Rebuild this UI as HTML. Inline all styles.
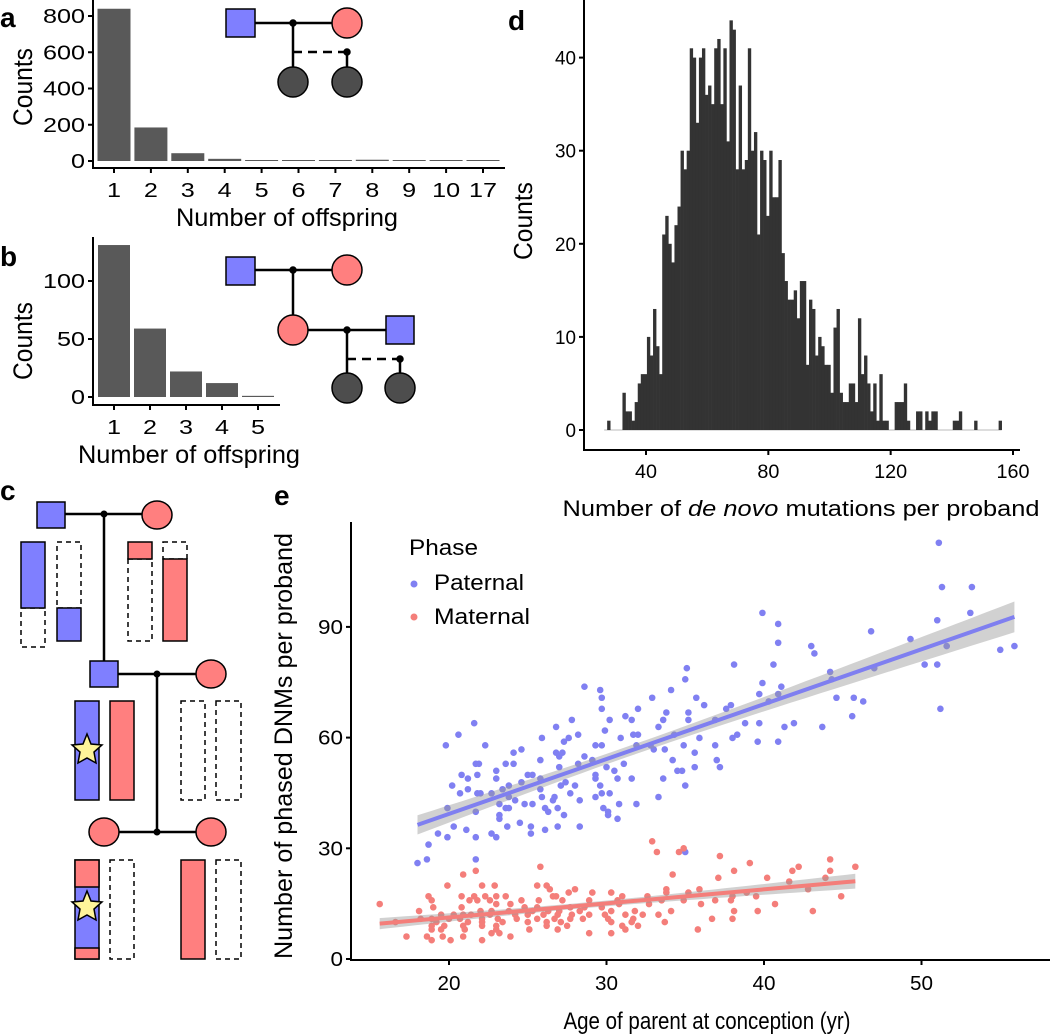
<!DOCTYPE html>
<html><head><meta charset="utf-8"><style>
html,body{margin:0;padding:0;background:#fff;}
svg{display:block;font-family:"Liberation Sans",Arial,sans-serif;}
</style></head><body>
<svg id="fig" width="1050" height="1034" viewBox="0 0 1050 1034" xmlns="http://www.w3.org/2000/svg">
<!-- panel labels -->
<text x="0" y="27" font-size="28" font-weight="bold">a</text>
<text x="0" y="266" font-size="28" font-weight="bold">b</text>
<text x="0" y="500" font-size="28" font-weight="bold">c</text>
<text x="508" y="30" font-size="28" font-weight="bold">d</text>
<text x="274" y="505" font-size="28" font-weight="bold">e</text>

<g id="pa"></g>
<g id="pb"></g>
<g id="pd"></g>
<g id="pe"></g>

<!-- pedigree a -->
<g stroke="#000" stroke-width="2.5">
<line x1="255" y1="23" x2="332" y2="23"/>
<line x1="293" y1="23" x2="293" y2="67"/>
<line x1="293" y1="52" x2="347" y2="52" stroke-dasharray="9,6"/>
<line x1="347" y1="52" x2="347" y2="67"/>
<circle cx="293" cy="23" r="2.5" fill="#000"/>
<circle cx="347" cy="52" r="2.5" fill="#000"/>
<rect x="226" y="9" width="29" height="28" fill="#7F7FFF" stroke-width="1.5"/>
<circle cx="347" cy="23" r="15" fill="#FF7F7F" stroke-width="1.5"/>
<circle cx="293" cy="82" r="15" fill="#4D4D4D" stroke-width="1.5"/>
<circle cx="347" cy="82" r="15" fill="#4D4D4D" stroke-width="1.5"/>
</g>
<!-- pedigree b -->
<g stroke="#000" stroke-width="2.5">
<line x1="255" y1="270" x2="332" y2="270"/>
<line x1="293" y1="270" x2="293" y2="315"/>
<line x1="308" y1="330" x2="386" y2="330"/>
<line x1="347" y1="330" x2="347" y2="373"/>
<line x1="347" y1="359" x2="400" y2="359" stroke-dasharray="9,6"/>
<line x1="400" y1="359" x2="400" y2="373"/>
<circle cx="293" cy="270" r="2.5" fill="#000"/>
<circle cx="347" cy="330" r="2.5" fill="#000"/>
<circle cx="400" cy="359" r="2.5" fill="#000"/>
<rect x="226" y="257" width="29" height="28" fill="#7F7FFF" stroke-width="1.5"/>
<circle cx="347" cy="270" r="15" fill="#FF7F7F" stroke-width="1.5"/>
<circle cx="293" cy="330" r="15" fill="#FF7F7F" stroke-width="1.5"/>
<rect x="386" y="316" width="28" height="28" fill="#7F7FFF" stroke-width="1.5"/>
<circle cx="347" cy="388" r="15" fill="#4D4D4D" stroke-width="1.5"/>
<circle cx="400" cy="388" r="15" fill="#4D4D4D" stroke-width="1.5"/>
</g>
<!-- panel c -->
<g stroke="#000" stroke-width="2">
<line x1="65" y1="514" x2="142" y2="514" stroke-width="2.5"/>
<line x1="104" y1="514" x2="104" y2="662" stroke-width="2.5"/>
<line x1="118" y1="674" x2="196" y2="674" stroke-width="2.5"/>
<line x1="157" y1="674" x2="157" y2="832" stroke-width="2.5"/>
<line x1="119" y1="832" x2="196" y2="832" stroke-width="2.5"/>
<circle cx="104" cy="514" r="2.5" fill="#000"/>
<circle cx="157" cy="674" r="2.5" fill="#000"/>
<circle cx="157" cy="832" r="2.5" fill="#000"/>
<rect x="37" y="502" width="28" height="26" fill="#7F7FFF" stroke-width="1.5"/>
<ellipse cx="157" cy="515" rx="15" ry="14" fill="#FF7F7F" stroke-width="1.5"/>
<rect x="90" y="661" width="28" height="26" fill="#7F7FFF" stroke-width="1.5"/>
<ellipse cx="211" cy="674" rx="15" ry="14" fill="#FF7F7F" stroke-width="1.5"/>
<ellipse cx="104" cy="832" rx="15" ry="14" fill="#FF7F7F" stroke-width="1.5"/>
<ellipse cx="211" cy="832" rx="15" ry="14" fill="#FF7F7F" stroke-width="1.5"/>
<g stroke-width="1.5">
<rect x="21" y="608" width="24" height="39" fill="none" stroke-dasharray="5,4"/>
<rect x="21" y="542" width="24" height="66" fill="#7F7FFF"/>
<rect x="57" y="542" width="24" height="66" fill="none" stroke-dasharray="5,4"/>
<rect x="57" y="608" width="24" height="33" fill="#7F7FFF"/>
<rect x="128" y="559" width="24" height="82" fill="none" stroke-dasharray="5,4"/>
<rect x="128" y="542" width="24" height="17" fill="#FF7F7F"/>
<rect x="163" y="542" width="24" height="17" fill="none" stroke-dasharray="5,4"/>
<rect x="163" y="559" width="24" height="82" fill="#FF7F7F"/>
<rect x="75" y="701" width="24" height="99" fill="#7F7FFF"/>
<rect x="110" y="701" width="24" height="99" fill="#FF7F7F"/>
<rect x="181" y="701" width="24" height="99" fill="none" stroke-dasharray="5,4"/>
<rect x="216" y="701" width="25" height="99" fill="none" stroke-dasharray="5,4"/>
<rect x="75" y="860" width="24" height="99" fill="#7F7FFF"/>
<rect x="75" y="860" width="24" height="27" fill="#FF7F7F"/>
<rect x="75" y="948" width="24" height="11" fill="#FF7F7F"/>
<rect x="110" y="860" width="24" height="99" fill="none" stroke-dasharray="5,4"/>
<rect x="181" y="860" width="24" height="99" fill="#FF7F7F"/>
<rect x="216" y="860" width="25" height="99" fill="none" stroke-dasharray="5,4"/>
<polygon points="87,734 91,744 102,745 94,752 96,763 87,758 78,763 80,752 72,745 83,744" fill="#FFF59A"/>
<polygon points="87,891 91,901 102,902 94,909 96,920 87,915 78,920 80,909 72,902 83,901" fill="#FFF59A"/>
</g>
</g>

<!-- panel d titles -->
<text transform="translate(532,221) rotate(-90)" text-anchor="middle" font-size="26" textLength="78" lengthAdjust="spacingAndGlyphs">Counts</text>
<text x="801" y="516" text-anchor="middle" font-size="22" textLength="477" lengthAdjust="spacingAndGlyphs">Number of <tspan font-style="italic">de novo</tspan> mutations per proband</text>

<!-- panel a/b titles -->
<text transform="translate(32,87) rotate(-90)" text-anchor="middle" font-size="27" textLength="78" lengthAdjust="spacingAndGlyphs">Counts</text>
<text x="287" y="226" text-anchor="middle" font-size="25" textLength="222" lengthAdjust="spacingAndGlyphs">Number of offspring</text>
<text transform="translate(32,341) rotate(-90)" text-anchor="middle" font-size="27" textLength="78" lengthAdjust="spacingAndGlyphs">Counts</text>
<text x="189" y="463" text-anchor="middle" font-size="25" textLength="222" lengthAdjust="spacingAndGlyphs">Number of offspring</text>

<!-- panel e titles -->
<text transform="translate(292,746) rotate(-90)" text-anchor="middle" font-size="25" textLength="426" lengthAdjust="spacingAndGlyphs">Number of phased DNMs per proband</text>
<text x="707" y="1029" text-anchor="middle" font-size="24" textLength="287" lengthAdjust="spacingAndGlyphs">Age of parent at conception (yr)</text>
<g>
<text x="409" y="555" font-size="22" textLength="69" lengthAdjust="spacingAndGlyphs">Phase</text>
<circle cx="414" cy="584" r="3.5" fill="#8080F2"/>
<text x="434" y="590" font-size="22" textLength="90" lengthAdjust="spacingAndGlyphs">Paternal</text>
<circle cx="414" cy="617" r="3.5" fill="#F47E7A"/>
<text x="434" y="624" font-size="22" textLength="96" lengthAdjust="spacingAndGlyphs">Maternal</text>
</g>
</svg>
<script>
// ---- data panel a ----
const aCategories = ["1","2","3","4","5","6","7","8","9","10","17"];
const aCounts = [840,185,43,12,3,2,3,7,3,1,1];
const aTicks = [0,200,400,600,800];
// ---- data panel b ----
const bCategories = ["1","2","3","4","5"];
const bCounts = [131,59,22,12,1];
const bTicks = [0,50,100];
// ---- data panel d ----
const dBinStart = 27.3;
const dBinWidth = 1.0;
const dCounts = [1,0,0,0,0,4,2,2,1,3,5,6,6,10,8,13,9,6,21,23,20,18,22,24,30,28,30,41,40,33,40,41,36,37,35,41,42,35,41,31,44,43,28,37,28,29,41,30,32,21,30,29,23,30,25,25,29,19,16,14,14,15,12,16,16,7,14,13,8,10,9,7,7,4,11,13,4,3,3,5,5,3,12,6,8,5,2,5,1,6,1,1,0,0,3,3,3,5,1,0,0,2,2,0,2,1,2,2,0,0,0,0,0,1,1,2,0,0,0,0,1,0,0,0,0,0,0,0,1];
const dYTicks = [0,10,20,30,40];
const dXTicks = [40,80,120,160];
// ---- data panel e ----
const paternalAge = [51.1,51.3,53.2,53.1,51.0,39.9,40.9,40.9,46.8,49.3,43.0,43.2,55.0,55.9,51.6,50.2,51.0,51.2,47.0,38.1,40.6,35.1,35.0,44.2,44.3,39.9,41.1,34.1,28.6,29.6,29.7,32.9,35.7,39.7,40.9,44.6,45.7,46.3,40.3,36.2,32.0,29.7,33.8,35.2,37.9,37.6,45.6,31.2,31.6,30.2,27.8,33.6,35.2,36.9,38.8,39.7,41.9,41.3,43.7,21.6,26.8,33.3,29.9,31.7,32.0,34.3,20.6,28.2,25.9,27.6,27.3,30.9,35.9,38.0,38.3,39.6,40.9,31.9,32.8,19.8,22.3,29.3,29.7,34.9,36.9,33.0,33.7,24.6,24.1,26.8,27.2,35.6,27.0,28.6,29.1,25.8,34.2,37.0,23.6,24.1,21.7,21.9,28.2,30.0,27.0,35.6,37.2,31.1,23.0,30.5,34.5,34.8,20.8,25.0,25.3,21.2,21.8,23.0,25.8,29.3,29.3,30.7,31.6,33.6,24.6,27.4,20.2,23.8,28.0,27.1,29.6,35.0,21.2,20.7,23.4,21.8,22.0,25.8,22.7,27.7,29.7,30.2,23.8,25.9,26.7,29.3,33.3,24.2,26.6,28.3,24.8,23.2,25.3,30.8,31.9,19.9,23.6,23.8,26.1,26.9,29.8,21.7,26.3,30.1,23.2,27.3,30.1,23.2,30.7,20.3,21.1,23.7,25.2,26.9,28.3,24.5,19.3,19.9,21.7,22.7,23.0,25.2,26.1,18.7,18.6,18.0,21.7,35.0];
const paternalDNM = [112.8,100.8,100.8,93.8,91.8,93.8,90.8,85.7,88.8,86.7,84.8,82.8,83.8,84.8,84.8,79.8,79.8,67.8,78.8,79.8,79.8,78.8,75.8,77.8,75.8,74.8,73.8,72.9,73.8,72.9,70.8,70.8,70.8,71.8,71.8,70.8,70.8,69.8,69.8,68.8,67.8,67.8,66.8,66.8,68.8,67.8,65.8,65.8,64.8,64.8,64.8,64.8,64.8,64.8,63.9,63.9,63.9,62.9,62.9,63.9,62.9,62.9,61.9,60.8,60.8,60.8,60.8,60.8,59.9,59.9,58.9,59.9,59.9,59.9,60.8,58.9,58.9,57.9,57.9,57.9,57.9,57.9,57.9,57.9,57.9,56.8,56.8,56.8,55.9,55.9,55.9,55.9,54.9,54.9,53.9,53.9,53.9,53.9,52.9,52.9,52.9,52.9,52.9,52.0,52.0,52.0,52.0,52.9,51.0,51.0,51.0,51.0,49.9,49.9,49.9,48.9,49.9,48.9,48.9,49.9,48.9,48.9,48.9,48.9,47.9,47.9,47.0,47.0,47.0,47.0,47.0,47.0,46.0,44.9,46.0,44.9,44.9,46.0,44.9,44.9,44.9,44.9,43.9,43.9,43.9,43.9,43.9,43.0,43.0,43.0,42.0,42.0,42.0,42.0,42.0,40.9,40.9,40.9,40.9,40.9,40.9,39.9,39.9,39.9,39.0,39.0,39.0,38.0,38.0,35.9,35.0,35.9,35.9,35.9,35.9,36.9,34.0,33.0,33.0,34.0,33.0,34.0,35.0,31.0,27.0,26.0,27.0,29.0];
const maternalAge = [32.9,33.2,34.6,34.9,37.2,39.1,44.2,25.8,21.7,45.8,42.2,41.8,44.2,38.1,20.9,34.2,40.2,37.1,43.9,41.6,19.9,22.1,22.9,25.6,26.2,26.4,28.0,33.8,35.9,38.9,42.8,27.6,29.1,30.3,33.8,35.2,38.0,18.7,20.8,21.6,22.3,23.0,23.6,26.6,26.8,31.0,32.6,39.5,44.9,18.9,21.3,21.8,22.6,24.6,25.7,27.2,28.9,30.7,33.5,34.9,36.9,37.9,15.6,18.1,19.0,20.8,23.0,23.9,24.8,25.6,27.7,28.6,29.7,30.8,32.7,36.0,40.7,38.1,43.1,39.6,31.8,34.1,28.3,30.3,27.0,26.3,25.3,23.8,22.7,22.0,19.5,20.3,20.9,21.4,22.6,24.2,25.0,26.0,26.9,27.8,28.9,29.9,31.2,32.3,33.3,18.2,18.9,20.0,20.7,22.1,23.1,24.3,25.6,26.7,27.7,28.5,30.1,31.7,36.7,38.0,16.6,19.2,21.2,22.1,23.4,25.0,26.2,27.1,30.3,31.6,33.7,18.9,19.7,20.9,22.1,23.0,26.2,27.5,31.0,32.0,18.9,19.5,21.0,23.0,25.1,26.9,35.8,31.2,22.7,23.2,20.9,28.9,30.3,17.3,18.6,19.6,18.9,20.1,22.1,23.9];
const maternalDNM = [31.9,29.0,29.0,30.0,27.9,26.0,27.0,25.0,23.9,25.0,25.0,23.9,23.9,23.9,22.9,22.9,22.0,22.0,22.0,21.0,19.9,19.9,19.9,19.9,19.9,18.9,18.9,18.9,18.9,18.0,18.9,18.0,18.0,18.0,18.0,18.0,17.0,17.0,17.0,17.0,17.0,17.0,17.0,17.0,17.0,17.0,17.0,17.0,17.0,15.9,15.9,15.9,15.9,15.9,15.9,15.9,15.9,15.9,15.9,15.9,15.9,15.9,14.9,13.0,14.0,14.0,14.9,14.9,14.0,14.0,14.0,14.0,14.0,14.9,14.9,14.9,14.9,13.0,13.0,13.0,13.0,13.0,13.0,13.0,13.0,13.0,13.0,13.0,13.0,13.0,12.0,12.0,12.0,12.0,12.0,12.0,12.0,12.0,12.0,12.0,12.0,12.0,12.0,12.0,12.0,10.9,10.9,10.9,10.9,10.9,10.9,10.9,10.9,10.9,10.9,10.9,10.9,10.9,10.9,10.9,10.0,10.0,10.0,10.0,10.0,10.0,10.0,10.0,10.0,10.0,10.0,9.0,9.0,9.0,9.0,9.0,9.0,9.0,9.0,9.0,8.0,8.0,8.0,8.0,8.0,8.0,8.0,8.0,7.0,7.0,6.1,7.0,7.0,6.1,6.1,6.1,5.1,5.1,5.1,6.1];
const eXTicks = [20,30,40,50];
const eYTicks = [0,30,60,90];

const NS = "http://www.w3.org/2000/svg";
function mk(parent, tag, attrs){
  const el = document.createElementNS(NS, tag);
  for (const k in attrs) el.setAttribute(k, attrs[k]);
  parent.appendChild(el);
  return el;
}
function txt(parent, x, y, s, anchor, size, perChar){
  const t = mk(parent, "text", {x:x, y:y, "text-anchor":anchor, "font-size":size});
  if (perChar) { t.setAttribute("textLength", s.length * perChar); t.setAttribute("lengthAdjust", "spacingAndGlyphs"); }
  t.textContent = s;
  return t;
}

// ---- bar chart (a, b) ----
function barChart(gid, cats, vals, ticks, o){
  const g = document.getElementById(gid);
  const yS = v => o.y0 - v * o.py;
  const xS = i => o.x1 + i * o.step;
  cats.forEach((c, i) => {
    const h = Math.max(vals[i] * o.py, 1);
    const r = mk(g, "rect", {x: xS(i) - o.bw/2, y: o.y0 - h, width: o.bw, height: h, fill: "#595959"});
    
    
    mk(g, "line", {x1: xS(i), y1: o.axY, x2: xS(i), y2: o.axY + 5, stroke: "#000", "stroke-width": 2});
    const t = txt(g, xS(i), o.axY + 29, c, "middle", 20, 14);
    
    
  });
  ticks.forEach(v => {
    mk(g, "line", {x1: o.axX - 5, y1: yS(v), x2: o.axX, y2: yS(v), stroke: "#000", "stroke-width": 2});
    const t = txt(g, o.axX - 8, yS(v) + 7, String(v), "end", 20, 14);
    
    
  });
  const ya = mk(g, "line", {x1: o.axX, y1: o.top, x2: o.axX, y2: o.axY, stroke: "#000", "stroke-width": 2});
  
  
  const xa = mk(g, "line", {x1: o.axX - 1, y1: o.axY, x2: o.right, y2: o.axY, stroke: "#000", "stroke-width": 2});
  
  
}
barChart("pa", aCategories, aCounts, aTicks, {x1:114, step:36.9, bw:33, y0:161, py:145/800, axX:93, axY:168, top:0, right:505});
barChart("pb", bCategories, bCounts, bTicks, {x1:114, step:36, bw:32, y0:397, py:116/100, axX:93, axY:405, top:237, right:280});

// ---- histogram d ----
(function(){
  const g = document.getElementById("pd");
  const xS = v => 646 + (v - 40) * (367/120);
  const yS = v => 430 - v * 9.31;
  const base = mk(g, "line", {x1: xS(dBinStart) - 3, y1: yS(0), x2: xS(dBinStart + dCounts.length*dBinWidth), y2: yS(0), stroke: "#bbb", "stroke-width": 1});
  
  
  dCounts.forEach((c, i) => {
    if (c <= 0) return;
    const x0 = xS(dBinStart + i*dBinWidth), x1 = xS(dBinStart + (i+1)*dBinWidth);
    const r = mk(g, "rect", {x: x0, y: yS(c), width: x1 - x0 + 0.3, height: yS(0) - yS(c), fill: "#333"});
    
    
  });
  dYTicks.forEach(v => {
    mk(g, "line", {x1: 579, y1: yS(v), x2: 584, y2: yS(v), stroke: "#000", "stroke-width": 2});
    const t = txt(g, 576, yS(v) + 7, String(v), "end", 19, 10.5);
    
    
  });
  dXTicks.forEach(v => {
    mk(g, "line", {x1: xS(v), y1: 450, x2: xS(v), y2: 455, stroke: "#000", "stroke-width": 2});
    const t = txt(g, xS(v), 478, String(v), "middle", 19, 11);
    
    
  });
  const ya = mk(g, "line", {x1: 584, y1: 0, x2: 584, y2: 450, stroke: "#000", "stroke-width": 2});
  
  
  const xa = mk(g, "line", {x1: 583, y1: 450, x2: 1020, y2: 450, stroke: "#000", "stroke-width": 2});
  
  
})();

// ---- scatter e ----
(function(){
  const g = document.getElementById("pe");
  const xS = v => 449 + (v - 20) * 15.75;
  const yS = v => 959 - v * 3.69;
  function fit(xs, ys){
    const n = xs.length;
    const mx = xs.reduce((a,b)=>a+b,0)/n, my = ys.reduce((a,b)=>a+b,0)/n;
    let sxx=0, sxy=0;
    for (let i=0;i<n;i++){ sxx += (xs[i]-mx)**2; sxy += (xs[i]-mx)*(ys[i]-my); }
    const b = sxy/sxx, a = my - b*mx;
    let sse=0; for (let i=0;i<n;i++) sse += (ys[i]-a-b*xs[i])**2;
    const s = Math.sqrt(sse/(n-2));
    return {a, b, s, n, mx, sxx, lo: Math.min(...xs), hi: Math.max(...xs)};
  }
  function series(xs, ys, color, name){
    xs.forEach((x, i) => {
      const c = mk(g, "circle", {cx: xS(x), cy: yS(ys[i]), r: 3.3, fill: color});
      
      
    });
  }
  function trend(xs, ys, color, name){
    const f = fit(xs, ys);
    const up = [], dn = [];
    for (let k=0;k<=40;k++){
      const x = f.lo + (f.hi - f.lo)*k/40;
      const se = 1.97 * f.s * Math.sqrt(1/f.n + (x-f.mx)**2/f.sxx);
      const y = f.a + f.b*x;
      up.push(xS(x).toFixed(1)+","+yS(y+se).toFixed(1));
      dn.unshift(xS(x).toFixed(1)+","+yS(y-se).toFixed(1));
    }
    const band = mk(g, "polygon", {points: up.concat(dn).join(" "), fill: "#999", "fill-opacity": 0.45});
    
    
    const l = mk(g, "line", {x1: xS(f.lo), y1: yS(f.a+f.b*f.lo), x2: xS(f.hi), y2: yS(f.a+f.b*f.hi), stroke: color, "stroke-width": 4});
    
    
  }
  series(paternalAge, paternalDNM, "#8080F2", "paternal");
  series(maternalAge, maternalDNM, "#F47E7A", "maternal");
  trend(paternalAge, paternalDNM, "#7F7FF0", "paternal");
  trend(maternalAge, maternalDNM, "#F47E7A", "maternal");
  eYTicks.forEach(v => {
    mk(g, "line", {x1: 346, y1: yS(v), x2: 351, y2: yS(v), stroke: "#000", "stroke-width": 2});
    const t = txt(g, 343, yS(v) + 7, String(v), "end", 20, 12.5);
    
    
  });
  eXTicks.forEach(v => {
    mk(g, "line", {x1: xS(v), y1: 960, x2: xS(v), y2: 965, stroke: "#000", "stroke-width": 2});
    const t = txt(g, xS(v), 990, String(v), "middle", 20, 11.5);
    
    
  });
  const ya = mk(g, "line", {x1: 351, y1: 522, x2: 351, y2: 960, stroke: "#000", "stroke-width": 2});
  
  
  const xa = mk(g, "line", {x1: 350, y1: 960, x2: 1050, y2: 960, stroke: "#000", "stroke-width": 2});
  
  
})();
</script>
</body></html>
